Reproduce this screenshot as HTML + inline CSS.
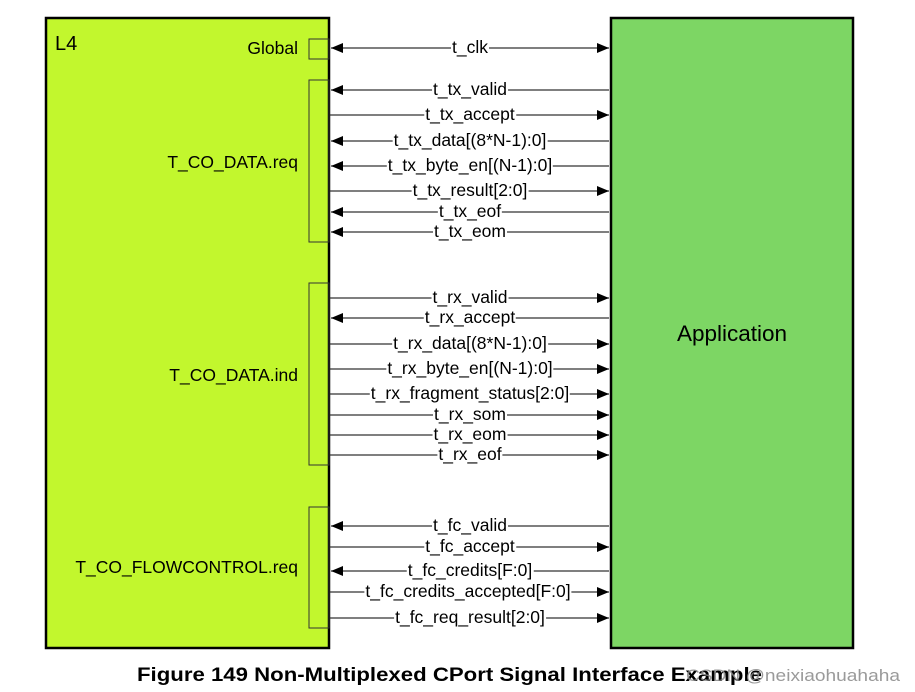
<!DOCTYPE html>
<html><head><meta charset="utf-8"><style>
html,body{margin:0;padding:0;background:#fff;width:915px;height:692px;overflow:hidden;position:relative}
svg{display:block;position:absolute;left:0;top:0;font-family:"Liberation Sans",Arial,sans-serif}
.s{position:absolute;font-family:"Liberation Sans",Arial,sans-serif;font-size:17.5px;line-height:18px;background:#fff;padding:0 1px;transform:translateX(-50%);white-space:nowrap;color:#000}
</style></head><body>
<svg width="915" height="692" viewBox="0 0 915 692" xmlns="http://www.w3.org/2000/svg">
<defs>
<marker id="a" viewBox="0 0 12 10" refX="12" refY="5" markerWidth="12" markerHeight="10" markerUnits="userSpaceOnUse" orient="auto-start-reverse"><path d="M0,0L12,5L0,10z" fill="#000"/></marker>
</defs>
<rect x="46" y="18" width="283" height="630" fill="#c2f72d" stroke="#000" stroke-width="2.5"/>
<rect x="611" y="18" width="242" height="630" fill="#7dd664" stroke="#000" stroke-width="2.5"/>
<g fill="none" stroke="#333" stroke-width="1">
<rect x="309" y="39" width="20" height="20"/>
<rect x="309" y="80" width="20" height="162"/>
<rect x="309" y="283" width="20" height="182"/>
<rect x="309" y="507" width="20" height="121"/>
</g>
<text x="55" y="50" font-size="20">L4</text>
<g font-size="17.5" text-anchor="end">
<text x="298" y="54">Global</text>
<text x="298" y="168">T_CO_DATA.req</text>
<text x="298" y="381">T_CO_DATA.ind</text>
<text x="298" y="573">T_CO_FLOWCONTROL.req</text>
</g>
<text x="732" y="341" font-size="22.5" text-anchor="middle">Application</text>
<g stroke="#333" stroke-width="1.2">
<line x1="331" y1="48" x2="609" y2="48" marker-start="url(#a)" marker-end="url(#a)"/>
<line x1="609" y1="90" x2="331" y2="90" marker-end="url(#a)"/>
<line x1="330" y1="115" x2="609" y2="115" marker-end="url(#a)"/>
<line x1="609" y1="141" x2="331" y2="141" marker-end="url(#a)"/>
<line x1="609" y1="166" x2="331" y2="166" marker-end="url(#a)"/>
<line x1="330" y1="191" x2="609" y2="191" marker-end="url(#a)"/>
<line x1="609" y1="212" x2="331" y2="212" marker-end="url(#a)"/>
<line x1="609" y1="232" x2="331" y2="232" marker-end="url(#a)"/>
<line x1="330" y1="298" x2="609" y2="298" marker-end="url(#a)"/>
<line x1="609" y1="318" x2="331" y2="318" marker-end="url(#a)"/>
<line x1="330" y1="344" x2="609" y2="344" marker-end="url(#a)"/>
<line x1="330" y1="369" x2="609" y2="369" marker-end="url(#a)"/>
<line x1="330" y1="394" x2="609" y2="394" marker-end="url(#a)"/>
<line x1="330" y1="415" x2="609" y2="415" marker-end="url(#a)"/>
<line x1="330" y1="435" x2="609" y2="435" marker-end="url(#a)"/>
<line x1="330" y1="455" x2="609" y2="455" marker-end="url(#a)"/>
<line x1="609" y1="526" x2="331" y2="526" marker-end="url(#a)"/>
<line x1="330" y1="547" x2="609" y2="547" marker-end="url(#a)"/>
<line x1="609" y1="571" x2="331" y2="571" marker-end="url(#a)"/>
<line x1="330" y1="592" x2="609" y2="592" marker-end="url(#a)"/>
<line x1="330" y1="618" x2="609" y2="618" marker-end="url(#a)"/>
</g>
<text x="137" y="681" font-size="19" font-weight="bold" textLength="625" lengthAdjust="spacingAndGlyphs">Figure 149 Non-Multiplexed CPort Signal Interface Example</text>
<text x="686" y="681" font-size="17" fill="#888" fill-opacity="0.85" textLength="214" lengthAdjust="spacingAndGlyphs">CSDN @neixiaohuahaha</text>
</svg>
<div class="s" style="left:470px;top:38px">t_clk</div>
<div class="s" style="left:470px;top:80px">t_tx_valid</div>
<div class="s" style="left:470px;top:105px">t_tx_accept</div>
<div class="s" style="left:470px;top:131px">t_tx_data[(8*N-1):0]</div>
<div class="s" style="left:470px;top:156px">t_tx_byte_en[(N-1):0]</div>
<div class="s" style="left:470px;top:181px">t_tx_result[2:0]</div>
<div class="s" style="left:470px;top:202px">t_tx_eof</div>
<div class="s" style="left:470px;top:222px">t_tx_eom</div>
<div class="s" style="left:470px;top:288px">t_rx_valid</div>
<div class="s" style="left:470px;top:308px">t_rx_accept</div>
<div class="s" style="left:470px;top:334px">t_rx_data[(8*N-1):0]</div>
<div class="s" style="left:470px;top:359px">t_rx_byte_en[(N-1):0]</div>
<div class="s" style="left:470px;top:384px">t_rx_fragment_status[2:0]</div>
<div class="s" style="left:470px;top:405px">t_rx_som</div>
<div class="s" style="left:470px;top:425px">t_rx_eom</div>
<div class="s" style="left:470px;top:445px">t_rx_eof</div>
<div class="s" style="left:470px;top:516px">t_fc_valid</div>
<div class="s" style="left:470px;top:537px">t_fc_accept</div>
<div class="s" style="left:470px;top:561px">t_fc_credits[F:0]</div>
<div class="s" style="left:468px;top:582px">t_fc_credits_accepted[F:0]</div>
<div class="s" style="left:470px;top:608px">t_fc_req_result[2:0]</div>
</body></html>
